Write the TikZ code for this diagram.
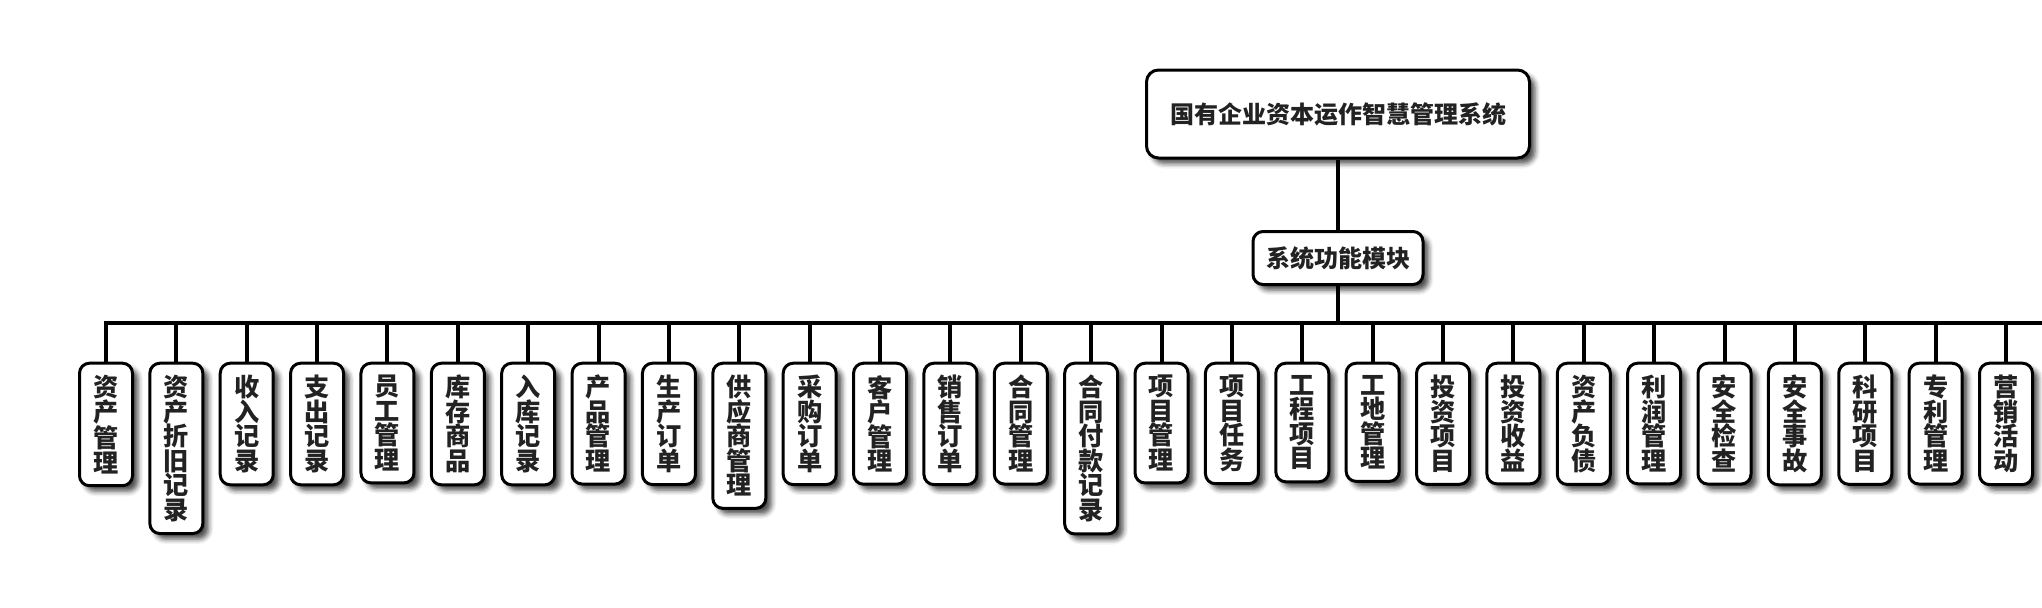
\documentclass[tikz,border=0pt]{standalone}
\usepackage{fontspec}
\newfontfamily\cjk{Noto Sans CJK SC}
\usetikzlibrary{positioning,shadows.blur}
\definecolor{inkgray}{RGB}{34,34,34}

\begin{document}
\begin{tikzpicture}[
  x=0.5pt, y=-0.5pt,
  box/.style={rectangle, draw=black, fill=white, line width=1.5pt, align=center,
    text=inkgray, font=\cjk\bfseries\fontsize{12}{12.25}\selectfont,
    blur shadow={shadow xshift=2.8pt, shadow yshift=-2.8pt, shadow blur radius=2.5pt, shadow opacity=70}},
  rootbox/.style={box, rounded corners=6pt, minimum width=191.5pt, minimum height=44pt},
  midbox/.style={box, rounded corners=5pt, minimum width=85pt, minimum height=26.5pt},
  leafbox/.style={box, rounded corners=5pt, minimum width=26.5pt, inner ysep=6pt, anchor=north,
    font=\cjk\bfseries\fontsize{12.6}{12.25}\selectfont},
  link/.style={draw=black, line width=2pt}
]
  \useasboundingbox (0,0) rectangle (2042,607);

  % Nodes
  \node[rootbox] (sys) at (1338,114) {国有企业资本运作智慧管理系统};
  \node[midbox] (mod) at (1338,258) {系统功能模块};

  \foreach \lbl [count=\i] in {
    {资\\产\\管\\理}, {资\\产\\折\\旧\\记\\录}, {收\\入\\记\\录}, {支\\出\\记\\录},
    {员\\工\\管\\理}, {库\\存\\商\\品}, {入\\库\\记\\录}, {产\\品\\管\\理},
    {生\\产\\订\\单}, {供\\应\\商\\管\\理}, {采\\购\\订\\单}, {客\\户\\管\\理},
    {销\\售\\订\\单}, {合\\同\\管\\理}, {合\\同\\付\\款\\记\\录}, {项\\目\\管\\理},
    {项\\目\\任\\务}, {工\\程\\项\\目}, {工\\地\\管\\理}, {投\\资\\项\\目},
    {投\\资\\收\\益}, {资\\产\\负\\债}, {利\\润\\管\\理}, {安\\全\\检\\查},
    {安\\全\\事\\故}, {科\\研\\项\\目}, {专\\利\\管\\理}, {营\\销\\活\\动}}
    \node[leafbox] (m\i) at ({106+70.37*(\i-1)},361.7) {\lbl};

  % Bus
  \coordinate (busR) at (2050,323);

  % Connectors
  \path[link] (sys) -- (mod);
  \path[link] (mod.south) -- (mod.south |- busR);
  \path[link] (m1.north) |- (busR);
  \foreach \i in {2,...,28}
    \path[link] (m\i.north) -- (m\i.north |- busR);

\end{tikzpicture}
\end{document}
